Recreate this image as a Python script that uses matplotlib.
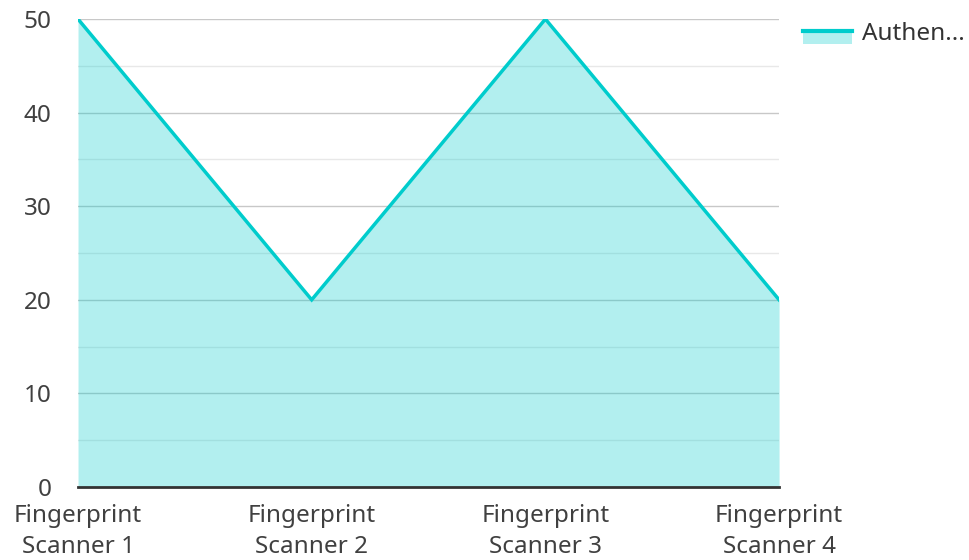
import matplotlib.pyplot as plt
from matplotlib.lines import Line2D
from matplotlib.patches import Rectangle
from matplotlib.legend_handler import HandlerBase

categories = ["Fingerprint\nScanner 1", "Fingerprint\nScanner 2",
              "Fingerprint\nScanner 3", "Fingerprint\nScanner 4"]
values = [50, 20, 50, 20]
series_name = "Authen..."

line_color = "#00cccc"

plt.rcParams['font.family'] = ['Noto Sans', 'DejaVu Sans']


class AreaHandler(HandlerBase):
    # line on top, translucent band underneath
    def create_artists(self, legend, orig_handle, xdescent, ydescent,
                       width, height, fontsize, trans):
        top = height * 0.5
        band = height * 0.82
        r = Rectangle((-xdescent, -ydescent + top - band), width, band,
                      facecolor=line_color, alpha=0.3, edgecolor='none',
                      transform=trans)
        ln = Line2D([-xdescent, -xdescent + width], [-ydescent + top] * 2,
                    color=line_color, lw=3, transform=trans)
        return [r, ln]


fig = plt.figure(figsize=(9.69, 5.6), dpi=100)
ax = fig.add_axes([0.0805, 0.1304, 0.7235, 0.8356])

# gridlines under the translucent fill
for y in range(5, 51, 5):
    ax.axhline(y, color="#c8c8c8" if y % 10 == 0 else "#e8e8e8", lw=1, zorder=0)

x = list(range(len(categories)))
ax.fill_between(x, values, 0, color=line_color, alpha=0.3, lw=0, zorder=1)
ax.plot(x, values, color=line_color, lw=2.5, zorder=3, solid_joinstyle='miter')

ax.set_xlim(0, 3)
ax.set_ylim(0, 50)
ax.set_yticks(range(0, 51, 10))
ax.set_xticks(x)
ax.set_xticklabels(categories, linespacing=1.4)
ax.tick_params(axis='both', length=0, labelsize=17.5, labelcolor="#404040")
ax.tick_params(axis='y', pad=19)
ax.tick_params(axis='x', pad=12)

for s in ["top", "right", "left"]:
    ax.spines[s].set_visible(False)
ax.spines["bottom"].set_color("#333333")
ax.spines["bottom"].set_linewidth(2)
ax.spines["bottom"].set_zorder(4)

fig.legend([object()], [series_name], loc='upper left',
           bbox_to_anchor=(0.829, 0.961), frameon=False,
           fontsize=17.5, handlelength=2.0, handleheight=0.6,
           handletextpad=0.4, borderaxespad=0, borderpad=0,
           handler_map={object: AreaHandler()},
           labelcolor="#333333")

fig.savefig("out.png", dpi=100)
